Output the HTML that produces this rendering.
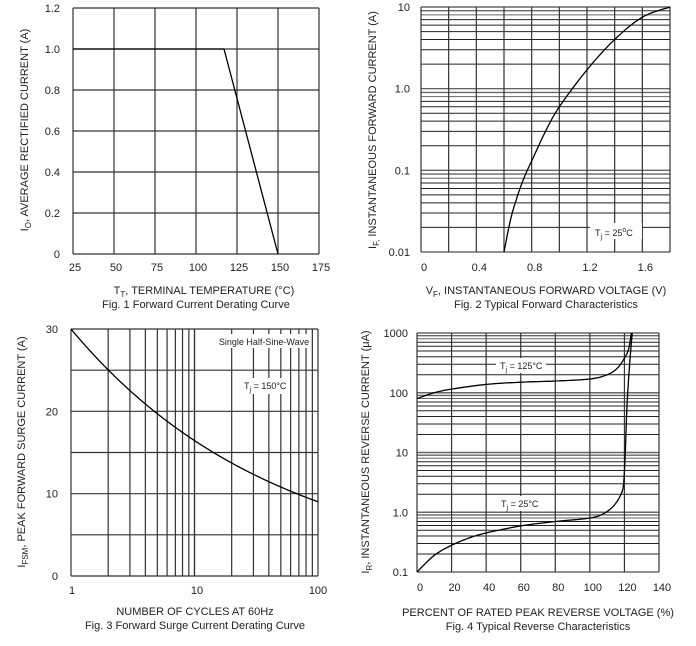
<!DOCTYPE html>
<html><head><meta charset="utf-8"><style>
body{margin:0;background:#fff;}
svg{display:block;font-family:"Liberation Sans",Arial,sans-serif;}
</style></head><body>
<svg id="s" width="696" height="646" viewBox="0 0 696 646" xmlns="http://www.w3.org/2000/svg"></svg>
<script>
const s=document.getElementById('s');let h='';
function L(x1,y1,x2,y2,c,w){h+=`<line x1="${x1}" y1="${y1}" x2="${x2}" y2="${y2}" stroke="${c||'#000'}" stroke-width="${w||1}"/>`;}
function T(x,y,t,a,sz,extra){h+=`<text x="${x}" y="${y}" font-size="${sz||11}" text-anchor="${a||'middle'}" fill="#222" ${extra||''}>${t}</text>`;}
function smooth(pts,fx,fy){
 let out=[];const tp=pts.map(p=>[fx(p[0]),fy(p[1])]);
 for(let i=0;i<tp.length-1;i++){const p0=tp[Math.max(i-1,0)],p1=tp[i],p2=tp[i+1],p3=tp[Math.min(i+2,tp.length-1)];
  for(let t=0;t<1;t+=0.1){const t2=t*t,t3=t2*t;
   out.push([0.5*((2*p1[0])+(-p0[0]+p2[0])*t+(2*p0[0]-5*p1[0]+4*p2[0]-p3[0])*t2+(-p0[0]+3*p1[0]-3*p2[0]+p3[0])*t3),
   0.5*((2*p1[1])+(-p0[1]+p2[1])*t+(2*p0[1]-5*p1[1]+4*p2[1]-p3[1])*t2+(-p0[1]+3*p1[1]-3*p2[1]+p3[1])*t3)]);}}
 out.push(tp[tp.length-1]);
 let d='';out.forEach((p,i)=>{d+=(i?'L':'M')+p[0].toFixed(1)+','+p[1].toFixed(1);});h+=`<path d="${d}" fill="none" stroke="#000" stroke-width="1.3"/>`;}
function logGridY(x1,x2,top,bot,dec0,ndec){const dh=(bot-top)/ndec;
 for(let d=0;d<ndec;d++){for(let m=2;m<=10;m++){const y=bot-d*dh-Math.log10(m)*dh;L(x1,y,x2,y,m>=8?'#666':'#222',m>=9?1.4:1);}}
 L(x1,bot,x2,bot,'#222',1);}

// Chart 1
{const x0=73,x1=319,y0=8,y1=254;
for(let i=0;i<=6;i++){const x=x0+i*41;L(x,y0,x,y1,'#333',1.2);const y=y0+i*41;L(x0,y,x1,y,'#333',1.2);}
['1.2','1.0','0.8','0.6','0.4','0.2','0'].forEach((t,i)=>T(60,y0+i*41+4,t,'end'));
[25,50,75,100,125,150,175].forEach((t,i)=>T(x0+i*41+2,271,t));
L(x0,49,224,49,'#000',1.3);L(224,49,278,254,'#000',1.3);
T(204,294,'T<tspan font-size="8" dy="3">T</tspan><tspan dy="-3">, TERMINAL TEMPERATURE (°C)</tspan>');
T(196,308,'Fig. 1  Forward Current Derating Curve');
T(28,130,'I<tspan font-size="8" dy="3">O</tspan><tspan dy="-3">, AVERAGE RECTIFIED CURRENT (A)</tspan>','middle',11,'transform="rotate(-90 28 130)"');}

// Chart 2
{const x0=421,x1=670,y0=7,y1=252;const dh=(y1-y0)/3,dx=(x1-x0)/1.8;
logGridY(x0,x1,y0,y1,-2,3);
for(let i=0;i<=9;i++){const x=x0+i*dx*0.2;L(x,y0,x,y1,'#333',1.2);}
const fx=v=>x0+v*dx,fy=v=>y1-(Math.log10(v)+2)*dh;
h+=`<rect x="590" y="223" width="52" height="16" fill="#fff"/>`;
smooth([[0.6,0.01],[0.65,0.026],[0.7,0.05],[0.75,0.085],[0.8,0.13],[0.9,0.3],[1.0,0.6],[1.2,1.7],[1.4,4],[1.6,7.5],[1.8,10]],fx,fy);
T(595,236,'T<tspan font-size="7" dy="3">j</tspan><tspan dy="-3"> = 25</tspan><tspan font-size="7" dy="-4">o</tspan><tspan dy="4">C</tspan>','start',9);
['10','1.0','0.1','0.01'].forEach((t,i)=>T(410,y0+i*dh+4,t,'end'));
['0','0.4','0.8','1.2','1.6'].forEach((t,i)=>T(fx(i*0.4)+3,271,t));
T(546,294,'V<tspan font-size="8" dy="3">F</tspan><tspan dy="-3">, INSTANTANEOUS FORWARD VOLTAGE (V)</tspan>');
T(546,308,'Fig. 2  Typical Forward Characteristics');
T(376,130,'I<tspan font-size="8" dy="3">F,</tspan><tspan dy="-3"> INSTANTANEOUS FORWARD CURRENT (A)</tspan>','middle',11,'transform="rotate(-90 376 130)"');}

// Chart 3
{const x0=71,x1=318,y0=329,y1=576;const dx=(x1-x0)/2,dy=(y1-y0)/30;
for(let i=0;i<=6;i++){const y=y0+i*5*dy;L(x0,y,x1,y,'#333',1.2);}
for(let d=0;d<2;d++)for(let m=1;m<=10;m++){const x=x0+d*dx+Math.log10(m)*dx;L(x,y0,x,y1,'#333',1.2);}
const fx=v=>x0+Math.log10(v)*dx,fy=v=>y1-v*dy;
let pts=[];for(let i=0;i<=40;i++){const lx=i/20;const n=Math.pow(10,lx);pts.push([n,30*Math.pow(n,-0.261)]);}
smooth(pts,fx,fy);
h+=`<rect x="217" y="334" width="94" height="14" fill="#fff"/><rect x="241" y="378" width="46" height="16" fill="#fff"/>`;
T(264,345,'Single Half-Sine-Wave','middle',9);
T(244,389,'T<tspan font-size="7" dy="3">j</tspan><tspan dy="-3"> = 150°C</tspan>','start',9);
['30','20','10','0'].forEach((t,i)=>T(58,y0+i*10*dy+4,t,'end'));
T(72,594,'1');T(197,594,'10');T(318,594,'100');
T(195,615,'NUMBER OF CYCLES AT 60Hz');
T(195,629,'Fig. 3  Forward Surge Current Derating Curve');
T(25,452,'I<tspan font-size="8" dy="3">FSM</tspan><tspan dy="-3">, PEAK FORWARD SURGE CURRENT (A)</tspan>','middle',11,'transform="rotate(-90 25 452)"');}

// Chart 4
{const x0=417,x1=659,y0=333,y1=572;const dh=(y1-y0)/4,dx=(x1-x0)/140;
logGridY(x0,x1,y0,y1,-1,4);
for(let i=0;i<=7;i++){const x=x0+i*20*dx;L(x,y0,x,y1,'#333',1.2);}
const fx=v=>x0+v*dx,fy=v=>y1-(Math.log10(v)+1)*dh;
h+=`<rect x="496" y="358" width="50" height="15" fill="#fff"/><rect x="497" y="496" width="44" height="15" fill="#fff"/>`;
smooth([[0,80],[10,100],[20,115],[40,138],[60,150],[80,157],[100,170],[110,200],[116,260],[120,380],[122.5,550],[124,1000]],fx,fy);
smooth([[0,0.1],[10,0.19],[20,0.28],[30,0.37],[40,0.45],[60,0.59],[80,0.7],[100,0.8],[108,0.95],[114,1.3],[118,2],[119.5,3],[120.5,10],[121.5,60],[123,300],[124.5,1000]],fx,fy);
T(500,369,'T<tspan font-size="7" dy="3">j</tspan><tspan dy="-3"> = 125°C</tspan>','start',9);
T(501,507,'T<tspan font-size="7" dy="3">j</tspan><tspan dy="-3"> = 25°C</tspan>','start',9);
['1000','100','10','1.0','0.1'].forEach((t,i)=>T(408,y0+i*dh+4,t,'end'));
[0,20,40,60,80,100,120,140].forEach(v=>T(fx(v)+3,591,v));
T(538,616,'PERCENT OF RATED PEAK REVERSE VOLTAGE (%)');
T(538,630,'Fig. 4  Typical Reverse Characteristics');
T(369,452,'I<tspan font-size="8" dy="3">R</tspan><tspan dy="-3">, INSTANTANEOUS REVERSE CURRENT (μA)</tspan>','middle',11,'transform="rotate(-90 369 452)"');}
s.innerHTML=h;
</script>
</body></html>
